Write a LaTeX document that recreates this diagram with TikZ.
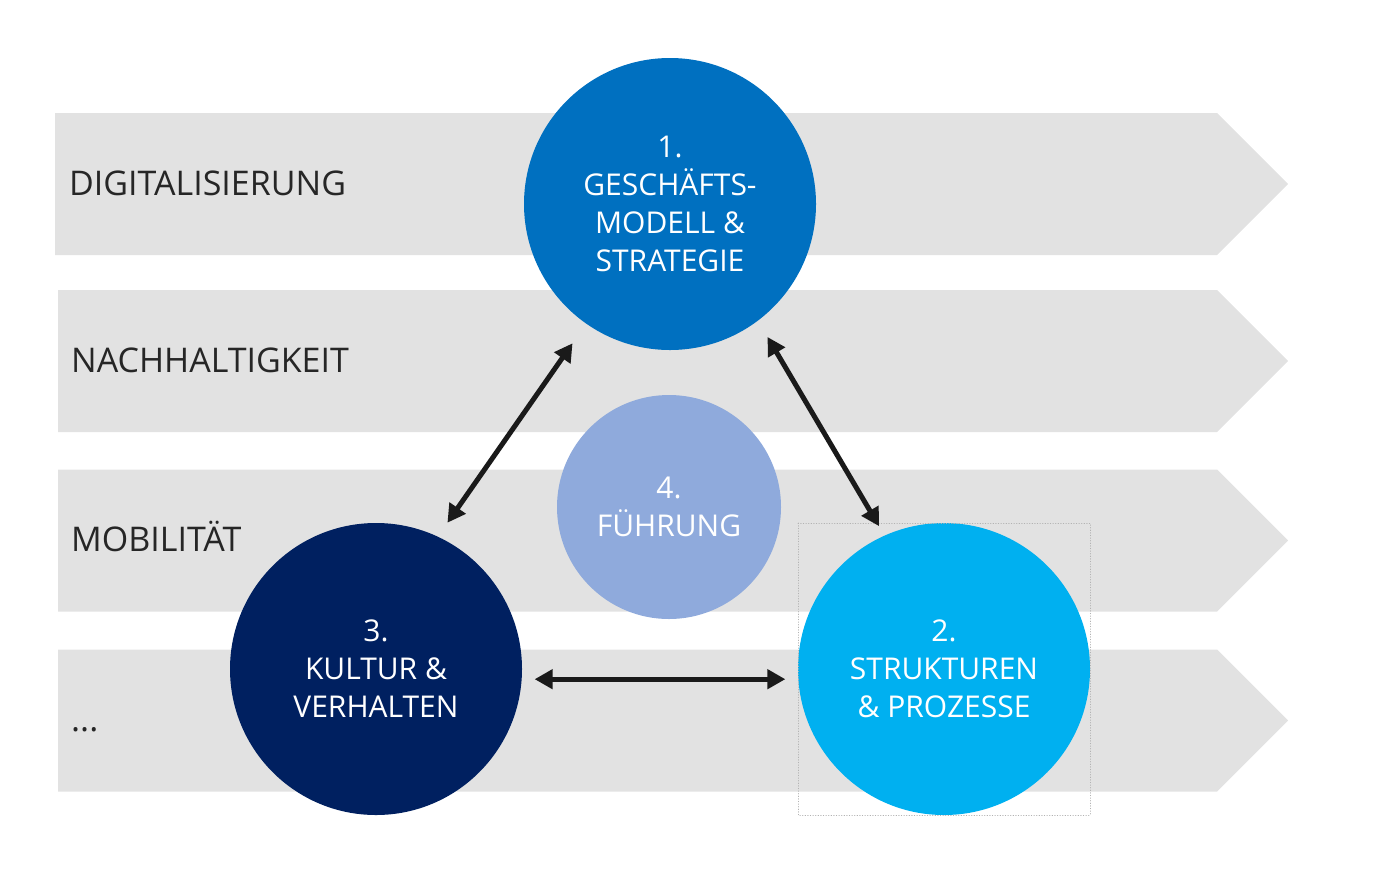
\documentclass[tikz,border=0pt]{standalone}
\usepackage{fontspec}
\setmainfont{Open Sans}
\usetikzlibrary{arrows.meta}
\definecolor{bandgray}{HTML}{E2E2E2}
\definecolor{labeltext}{HTML}{262626}
\definecolor{arrowdark}{HTML}{1A1A1A}
\definecolor{geschblue}{HTML}{0070C0}
\definecolor{strukblue}{HTML}{00B0F0}
\definecolor{kulturblue}{HTML}{002060}
\definecolor{fuehrblue}{HTML}{8FAADC}
\begin{document}
\begin{tikzpicture}[x=1pt,y=-1pt,line cap=round,line join=round,
  lbl/.style={anchor=base west,text=labeltext,inner sep=0pt,font=\fontsize{34}{38}\selectfont},
  ball/.style={circle,inner sep=0pt,outer sep=0pt,text=white,align=center,font=\fontsize{30}{38}\selectfont},
  link/.style={{Triangle[length=18pt,width=19pt]}-{Triangle[length=18pt,width=19pt]},line width=5pt,draw=arrowdark},
  selbox/.style={draw=gray!60,line width=0.6pt,dotted}]
  \useasboundingbox (0,0) rectangle (1388,871);

  \foreach \yc/\xl in {184/55,361/58,540.5/58,720.5/58}
    \fill[bandgray] (\xl,\yc-71) -- (1217,\yc-71) -- (1288,\yc) -- (1217,\yc+71) -- (\xl,\yc+71) -- cycle;

  \node[lbl] (digital) at (69,195) {DIGITALISIERUNG};
  \node[lbl] (nachhalt) at (71,372) {NACHHALTIGKEIT};
  \node[lbl] (mobil) at (71,551) {MOBILITÄT};
  \node[lbl] (weitere) at (71,731) {...};

  \node[ball,fill=geschblue,minimum size=292pt] (geschaeft) at (670,204) {1.\\GESCHÄFTS-\\MODELL \&\\STRATEGIE};
  \node[ball,fill=strukblue,minimum size=292pt] (strukturen) at (944,669) {2.\\STRUKTUREN\\\& PROZESSE};
  \node[ball,fill=kulturblue,minimum size=292pt] (kultur) at (376,669) {3.\\KULTUR \&\\VERHALTEN};
  \node[ball,fill=fuehrblue,minimum size=224pt] (fuehrung) at (669,507) {4.\\FÜHRUNG};

  \draw[selbox] (strukturen.west |- strukturen.north) rectangle (strukturen.east |- strukturen.south);

  \draw[link,shorten <=24pt,shorten >=17pt] (geschaeft.235) -- (kultur.65);
  \draw[link,shorten <=19pt,shorten >=11pt] (geschaeft.-53) -- (strukturen.114);
  \draw[link,shorten <=13pt,shorten >=13pt] (kultur.-4) -- (strukturen.184);
\end{tikzpicture}
\end{document}
